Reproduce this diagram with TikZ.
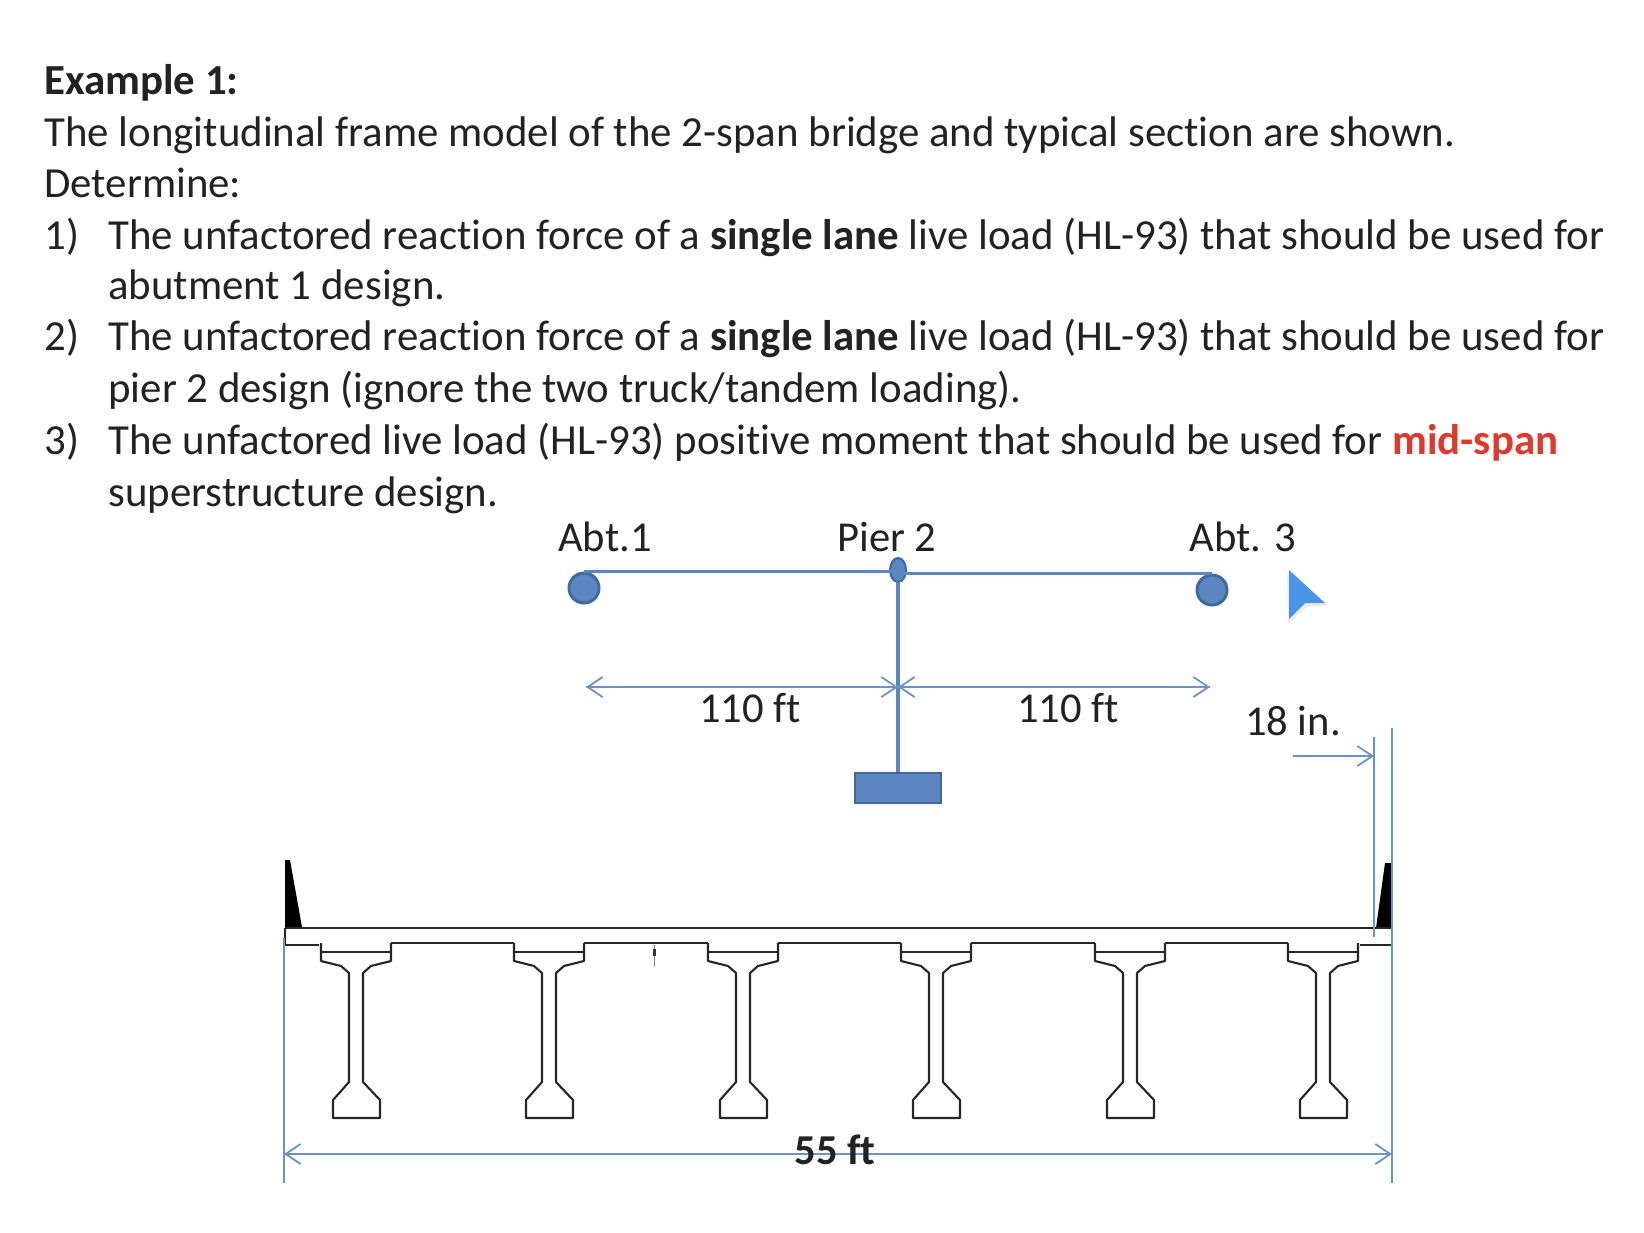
\documentclass[tikz,border=0pt]{standalone}
\usepackage{fontspec}
\setmainfont{Carlito}[Ligatures=NoCommon]
\usetikzlibrary{arrows.meta,shapes.geometric}
\definecolor{frameblue}{HTML}{5B86BF}
\definecolor{frameedge}{HTML}{41689F}
\definecolor{dimblue}{HTML}{6C93C8}
\definecolor{inkgrey}{HTML}{222222}
\definecolor{hotred}{HTML}{E0392B}
\definecolor{cursorblue}{HTML}{4A94E8}
\tikzstyle{textline} = [anchor = base west, inner sep = 0pt, text = inkgrey, font = \fontsize{21.43}{25}\selectfont]
\tikzstyle{dimlabel} = [inner sep = 0pt, text = inkgrey, font = \fontsize{21.3}{25}\selectfont]
\tikzstyle{joint} = [circle, minimum size = 15pt, inner sep = 0pt, draw = frameedge, line width = 1.5pt, fill = frameblue]
\tikzstyle{pierjoint} = [ellipse, minimum width = 8pt, minimum height = 12pt, inner sep = 0pt, draw = frameedge, line width = 1pt, fill = frameblue]
\tikzstyle{footing} = [rectangle, minimum width = 43pt, minimum height = 15pt, inner sep = 0pt, draw = frameedge, line width = 1.2pt, fill = frameblue]
\tikzstyle{member} = [frameblue, line width = 1.8pt]
\tikzstyle{arrow} = [dimblue, line width = .9pt, ->, >={Straight Barb[length=7.5pt,width=10pt]}]
\tikzstyle{extline} = [dimblue, line width = 1pt]
\tikzstyle{concrete} = [black!85, line width = 1.05pt, line join = round]
\begin{document}
\begin{tikzpicture}[x = .5pt, y = -.5pt]
	\useasboundingbox (0,0) rectangle (1644,1232);
	\node (title)[textline] at (44,94) {\textbf{Example 1:}};
	\node (line1)[textline] at (44,146) {The longitudinal frame model of the 2-span bridge and typical section are shown.};
	\node (line2)[textline] at (44,197) {Determine:};
	\node (num1)[textline] at (44,249) {1)};
	\node (line3)[textline] at (108,249) {The unfactored reaction force of a \textbf{single lane} live load (HL-93) that should be used for};
	\node (line4)[textline] at (108,299) {abutment 1 design.};
	\node (num2)[textline] at (44,350) {2)};
	\node (line5)[textline] at (108,350) {The unfactored reaction force of a \textbf{single lane} live load (HL-93) that should be used for};
	\node (line6)[textline] at (108,402) {pier 2 design (ignore the two truck/tandem loading).};
	\node (num3)[textline] at (44,454) {3)};
	\node (line7)[textline] at (108,454) {The unfactored live load (HL-93) positive moment that should be used for \textcolor{hotred}{\textbf{mid-span}}};
	\node (line8)[textline] at (108,506) {superstructure design.};

	\node (abt1)[joint] at (584,588) {};
	\node (pier2)[pierjoint] at (898,570) {};
	\node (abt3)[joint] at (1212,590) {};
	\node (base)[footing] at (898,788) {};
	\node (abt1label)[dimlabel] at (605,537) {Abt.1};
	\node (pier2label)[dimlabel] at (887,537) {Pier 2};
	\node (abt3label)[dimlabel] at (1243,537) {Abt. 3};
	\draw [member] (abt1.north) -- (abt1.north -| pier2);
	\draw [member] (abt3.north -| pier2) -- (abt3.north);
	\draw [member] (pier2.south) -- (base.north);

	\coordinate (dimA) at (586,687);
	\coordinate (dimB) at (898,687);
	\coordinate (dimC) at (1210,687);
	\draw [arrow] (dimB) -- (dimA);
	\draw [arrow] (dimC) -- (dimB);
	\draw [arrow] (dimB) -- (dimC);
	\draw [arrow] (dimA) -- (dimB);
	\node (spanA)[dimlabel] at (750,708) {110 ft};
	\node (spanB)[dimlabel] at (1068,708) {110 ft};

	\fill [black!8] (1287,573) -- (1328,606) -- (1307,607) -- (1288,624) -- cycle;
	\fill [cursorblue] (1289,570) -- (1325,603) -- (1305,603) -- (1289,619) -- cycle;

	\fill [black] (285,860) -- (290,860) -- (302,927) -- (285,927) -- cycle;
	\fill [black] (1376,928) -- (1385,863) -- (1392,863) -- (1392,928) -- cycle;
	\draw [concrete] (285,928) -- (1392,928);
	\draw [concrete] (285,928) -- (285,945) -- (319,945);
	\draw [concrete] (1360,945) -- (1392,945);
	\foreach \cx in {356,549,743,936,1130,1323}{
		\draw [concrete] (\cx-35,943) -- (\cx-35,961) -- (\cx-15,966) -- (\cx-7,973) -- (\cx-7,1082)
			-- (\cx-23,1100) -- (\cx-23,1118) -- (\cx+24,1118) -- (\cx+24,1100) -- (\cx+7,1082)
			-- (\cx+7,973) -- (\cx+15,966) -- (\cx+35,961) -- (\cx+35,943);
		\draw [concrete] (\cx-35,952) -- (\cx+35,952);
	}
	\foreach \ax/\bx in {391/514,584/708,778/901,971/1095,1165/1288}{
		\draw [concrete] (\ax,943) -- (\bx,943);
	}
	\draw [black!50, line width = .4pt] (654,945) -- (654,966);
	\fill [black!80] (653,949) rectangle (656,956);

	\coordinate (extL) at (284,938);
	\coordinate (extLend) at (284,1183);
	\coordinate (extR) at (1392,728);
	\coordinate (extRend) at (1392,1183);
	\coordinate (extM) at (1374,737);
	\coordinate (extMend) at (1374,937);
	\draw [extline] (extL) -- (extLend);
	\draw [extline] (extR) -- (extRend);
	\draw [extline] (extM) -- (extMend);
	\coordinate (widthA) at (284,1154);
	\coordinate (widthB) at (1392,1154);
	\draw [arrow] (widthA) -- (widthB);
	\draw [arrow] (widthB) -- (widthA);
	\coordinate (curbA) at (1293,756);
	\coordinate (curbB) at (1374,756);
	\draw [arrow] (curbA) -- (curbB);
	\node (curblabel)[dimlabel] at (1293,721) {18 in.};
	\node (widthlabel)[dimlabel, font = \fontsize{21.3}{25}\selectfont\bfseries] at (835,1150) {55 ft};
\end{tikzpicture}
\end{document}
